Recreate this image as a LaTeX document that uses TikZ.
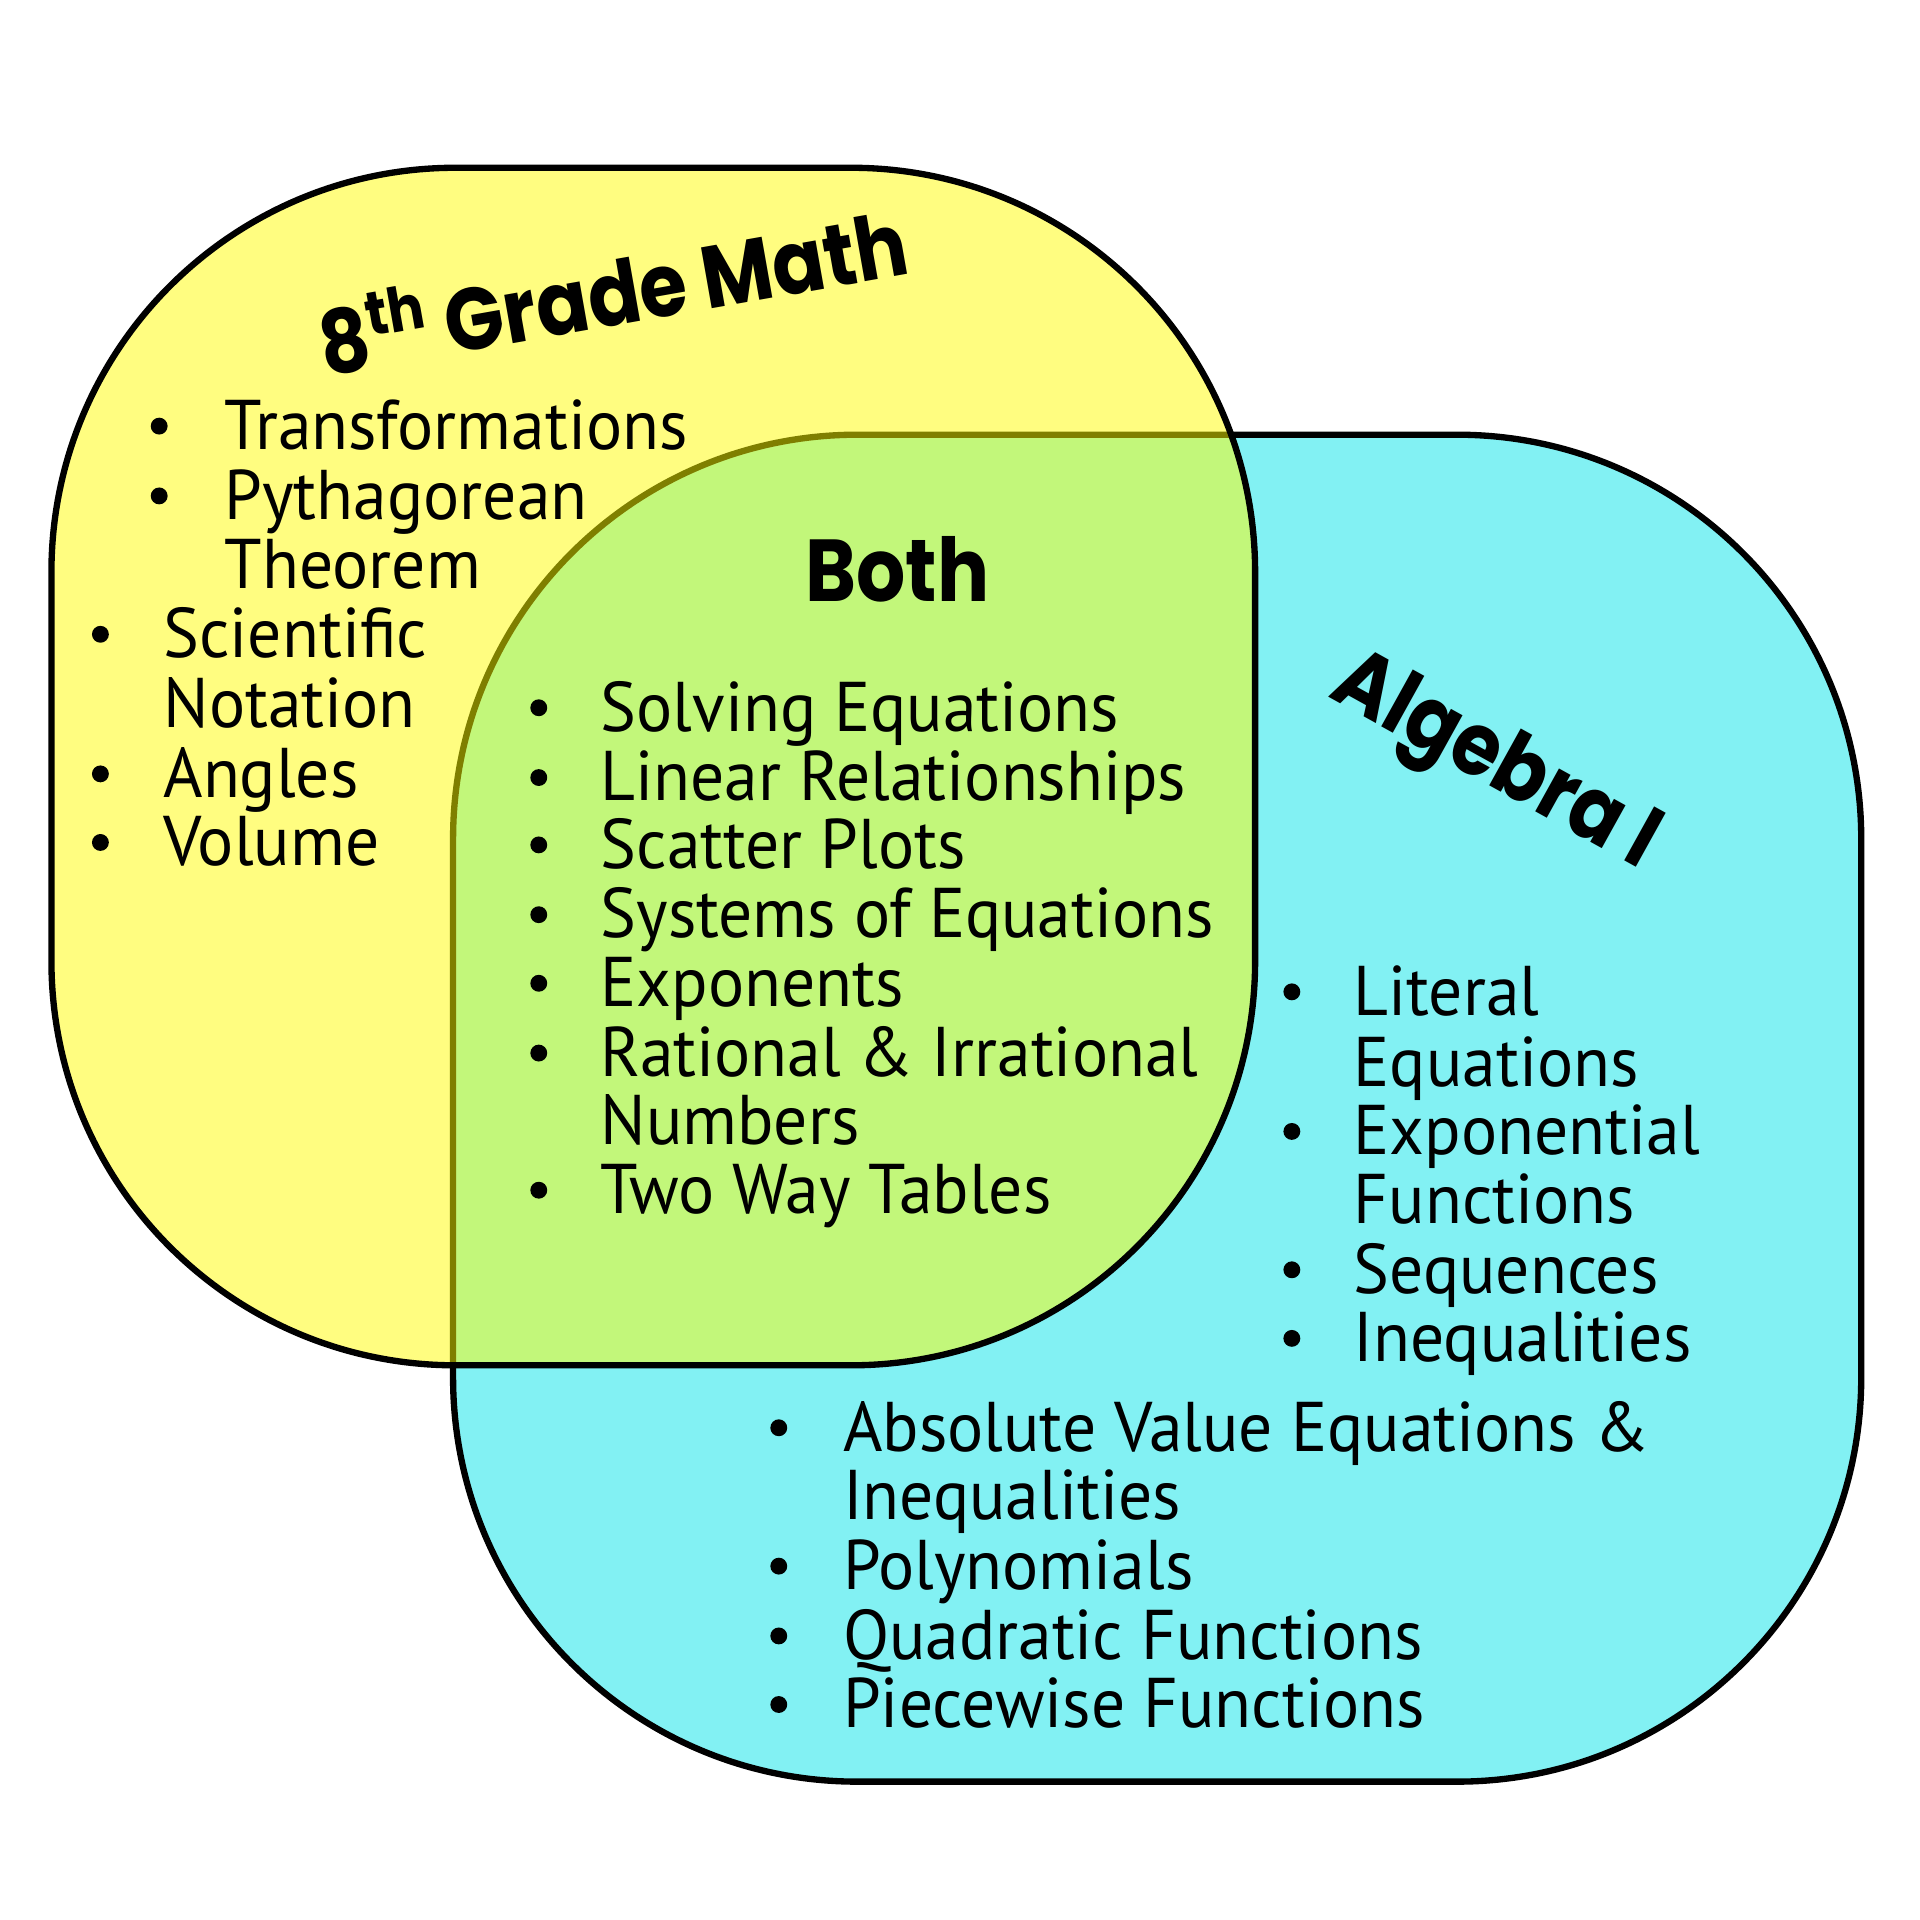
\documentclass[tikz,border=0pt]{standalone}
\usepackage{fontspec}
\newfontfamily\handfont[FakeStretch=0.96]{PT Sans}
\newfontfamily\titlefont[FakeStretch=0.88]{Poppins}
\definecolor{gelb}{HTML}{FFFD80}
\definecolor{tuerkis}{HTML}{82F1F3}
\definecolor{gruen}{HTML}{C2F77A}
\definecolor{oliv}{HTML}{7F7F00}
\tikzset{
  punkt/.style={circle,fill=black,inner sep=0pt,minimum size=4.8pt},
  eintrag/.style={anchor=base west,inner sep=0pt,font=\handfont\fontsize{20}{24}\selectfont},
  titel/.style={inner sep=0pt,font=\titlefont\bfseries\fontsize{25}{30}\selectfont},
  rand/.style={line width=1.8pt}
}
\begin{document}
\begin{tikzpicture}[x=0.012245cm,y=-0.012245cm]
  \useasboundingbox (0,0) rectangle (1568,1568);

  % Algebra-Flaeche
  \filldraw[fill=tuerkis,rand,rounded corners=4.04cm] (370,355) rectangle (1520,1455);
  % 8. Klasse-Flaeche
  \fill[gelb,rounded corners=4.04cm] (42,137) rectangle (1025,1115);
  % Schnittmenge
  \begin{scope}
    \clip[rounded corners=4.04cm] (42,137) rectangle (1025,1115);
    \filldraw[fill=gruen,draw=oliv,rand,rounded corners=4.04cm] (370,355) rectangle (1520,1455);
  \end{scope}
  \draw[rand,rounded corners=4.04cm] (42,137) rectangle (1025,1115);

  % Ueberschriften
  \node[titel,rotate=10] (achte) at (500,235) {8\textsuperscript{th} Grade Math};
  \node[titel] (beide) at (733,465) {Both};
  \node[titel,rotate=-29] (algebra) at (1220,625) {Algebra I};

  % Liste 8. Klasse
  \node[punkt] (p1) at (130,348) {};
  \node[eintrag] (t1) at (183,367) {Transformations};
  \node[punkt] (p2) at (130,405) {};
  \node[eintrag] (t2) at (183,424) {Pythagorean};
  \node[eintrag] (t2b) at (183,481) {Theorem};
  \node[punkt] (p3) at (82,518) {};
  \node[eintrag] (t3) at (133,537) {Scientific};
  \node[eintrag] (t3b) at (133,594) {Notation};
  \node[punkt] (p4) at (82,632) {};
  \node[eintrag] (t4) at (133,651) {Angles};
  \node[punkt] (p5) at (82,688) {};
  \node[eintrag] (t5) at (133,707) {Volume};

  % Liste Both
  \node[punkt] (b1) at (440,578) {};
  \node[eintrag] (u1) at (490,597) {Solving Equations};
  \node[punkt] (b2) at (440,635) {};
  \node[eintrag] (u2) at (490,654) {Linear Relationships};
  \node[punkt] (b3) at (440,690) {};
  \node[eintrag] (u3) at (490,709) {Scatter Plots};
  \node[punkt] (b4) at (440,747) {};
  \node[eintrag] (u4) at (490,766) {Systems of Equations};
  \node[punkt] (b5) at (440,803) {};
  \node[eintrag] (u5) at (490,822) {Exponents};
  \node[punkt] (b6) at (440,860) {};
  \node[eintrag] (u6) at (490,879) {Rational \& Irrational};
  \node[eintrag] (u6b) at (490,935) {Numbers};
  \node[punkt] (b7) at (440,972) {};
  \node[eintrag] (u7) at (490,991) {Two Way Tables};

  % Liste Algebra rechts
  \node[punkt] (a1) at (1055,810) {};
  \node[eintrag] (s1) at (1105,829) {Literal};
  \node[eintrag] (s1b) at (1105,887) {Equations};
  \node[punkt] (a2) at (1055,924) {};
  \node[eintrag] (s2) at (1105,943) {Exponential};
  \node[eintrag] (s2b) at (1105,999) {Functions};
  \node[punkt] (a3) at (1055,1037) {};
  \node[eintrag] (s3) at (1105,1056) {Sequences};
  \node[punkt] (a4) at (1055,1093) {};
  \node[eintrag] (s4) at (1105,1112) {Inequalities};

  % Liste Algebra unten
  \node[punkt] (a5) at (636,1166) {};
  \node[eintrag] (s5) at (688,1185) {Absolute Value Equations \&};
  \node[eintrag] (s5b) at (688,1241) {Inequalities};
  \node[punkt] (a6) at (636,1279) {};
  \node[eintrag] (s6) at (688,1298) {Polynomials};
  \node[punkt] (a7) at (636,1336) {};
  \node[eintrag] (s7) at (688,1355) {Quadratic Functions};
  \node[punkt] (a8) at (636,1392) {};
  \node[eintrag] (s8) at (688,1411) {Piecewise Functions};
\end{tikzpicture}
\end{document}
